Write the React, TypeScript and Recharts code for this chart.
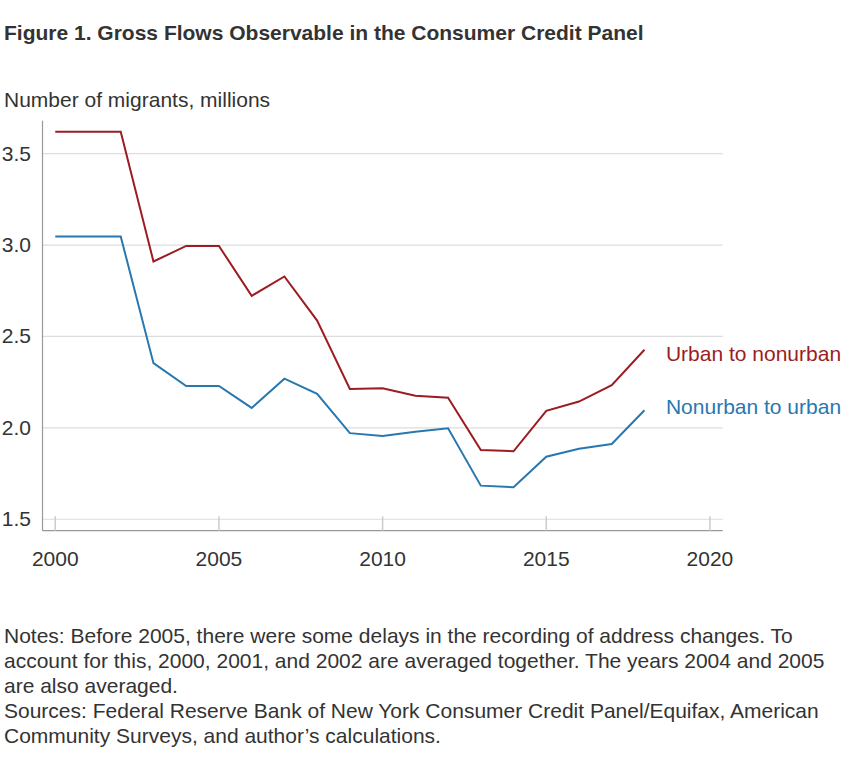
import React from "react";
import { LineChart, Line, XAxis, YAxis, ReferenceLine } from "recharts";

const years = [2000, 2001, 2002, 2003, 2004, 2005, 2006, 2007, 2008, 2009, 2010, 2011, 2012, 2013, 2014, 2015, 2016, 2017, 2018];
const urbanToNonurban = [3.62, 3.62, 3.62, 2.91, 2.995, 2.995, 2.722, 2.828, 2.587, 2.213, 2.217, 2.176, 2.165, 1.879, 1.872, 2.093, 2.144, 2.233, 2.427];
const nonurbanToUrban = [3.047, 3.047, 3.047, 2.354, 2.229, 2.229, 2.109, 2.269, 2.186, 1.971, 1.956, 1.979, 1.998, 1.684, 1.675, 1.842, 1.886, 1.912, 2.096];
const xTicks = [2000, 2005, 2010, 2015, 2020];
const yTicks = [1.5, 2.0, 2.5, 3.0, 3.5];
const seriesNames = ["Urban to nonurban", "Nonurban to urban"];

const title = "Figure 1. Gross Flows Observable in the Consumer Credit Panel";
const yLabel = "Number of migrants, millions";
const notes = [
  "Notes: Before 2005, there were some delays in the recording of address changes. To",
  "account for this, 2000, 2001, and 2002 are averaged together. The years 2004 and 2005",
  "are also averaged.",
  "Sources: Federal Reserve Bank of New York Consumer Credit Panel/Equifax, American",
  "Community Surveys, and author\u2019s calculations.",
];

const data = years.map((y, i) => ({ year: y, u2n: urbanToNonurban[i], n2u: nonurbanToUrban[i] }));

const RED = "#9c1c22";
const BLUE = "#2878b0";
const TEXT = "#333333";
const FONT = "'Liberation Sans', Arial, Helvetica, sans-serif";
const FS = 21;

const XTick = (props: any) => {
  const { x, y, payload } = props;
  return (
    <g>
      <line x1={x} x2={x} y1={y} y2={y - 14.5} stroke="#cccccc" strokeWidth={1.5} />
      <text x={x} y={y + 35.5} textAnchor="middle" fontSize={FS} fill={TEXT} fontFamily={FONT}>
        {payload.value}
      </text>
    </g>
  );
};

const YTick = (props: any) => {
  const { y, payload } = props;
  return (
    <text x={31} y={y + 7} textAnchor="end" fontSize={FS} fill={TEXT} fontFamily={FONT}>
      {Number(payload.value).toFixed(1)}
    </text>
  );
};

const makeEndLabel = (name: string, color: string, dy: number) => (props: any) => {
  const { x, y, index } = props;
  if (index !== years.length - 1) return <g />;
  return (
    <text x={x + 21.5} y={y + dy} fontSize={FS} fill={color} fontFamily={FONT}>
      {name}
    </text>
  );
};

export default function App() {
  return (
    <div style={{ position: "absolute", left: 0, top: 0, width: 860, height: 784, background: "#fff", fontFamily: FONT }}>
      <LineChart
        width={860}
        height={784}
        data={data}
        margin={{ top: 120.7, right: 137.3, bottom: 213.3, left: 0 }}
      >
        <XAxis
          dataKey="year"
          type="number"
          domain={[1999.61, 2020.39]}
          ticks={xTicks}
          height={40}
          tickSize={0}
          tickMargin={0}
          tickLine={false}
          axisLine={{ stroke: "#999999", strokeWidth: 1.2 }}
          tick={XTick}
          interval={0}
          allowDataOverflow={true}
        />
        <YAxis
          type="number"
          domain={[1.4375, 3.68]}
          ticks={yTicks}
          width={42.5}
          tickSize={0}
          tickMargin={0}
          tickLine={false}
          axisLine={{ stroke: "#999999", strokeWidth: 1.2 }}
          tick={YTick}
          interval={0}
          allowDataOverflow={true}
        />
        {yTicks.map((t) => (
          <ReferenceLine key={t} y={t} stroke="#dddddd" strokeWidth={1.2} />
        ))}
        <Line
          dataKey="u2n"
          stroke={RED}
          strokeWidth={2}
          dot={false}
          isAnimationActive={false}
          label={makeEndLabel(seriesNames[0], RED, 11)}
        />
        <Line
          dataKey="n2u"
          stroke={BLUE}
          strokeWidth={2}
          dot={false}
          isAnimationActive={false}
          label={makeEndLabel(seriesNames[1], BLUE, 3.5)}
        />
      </LineChart>
      <svg
        width={860}
        height={784}
        style={{ position: "absolute", left: 0, top: 0, pointerEvents: "none" }}
      >
        <text x={4} y={40} fontSize={21} fontWeight="bold" fill={TEXT} fontFamily={FONT}>
          {title}
        </text>
        <text x={4} y={107} fontSize={FS} fill={TEXT} fontFamily={FONT}>
          {yLabel}
        </text>
        {notes.map((line, i) => (
          <text key={i} x={4} y={643.3 + i * 24.8} fontSize={FS} fill={TEXT} fontFamily={FONT}>
            {line}
          </text>
        ))}
      </svg>
    </div>
  );
}
